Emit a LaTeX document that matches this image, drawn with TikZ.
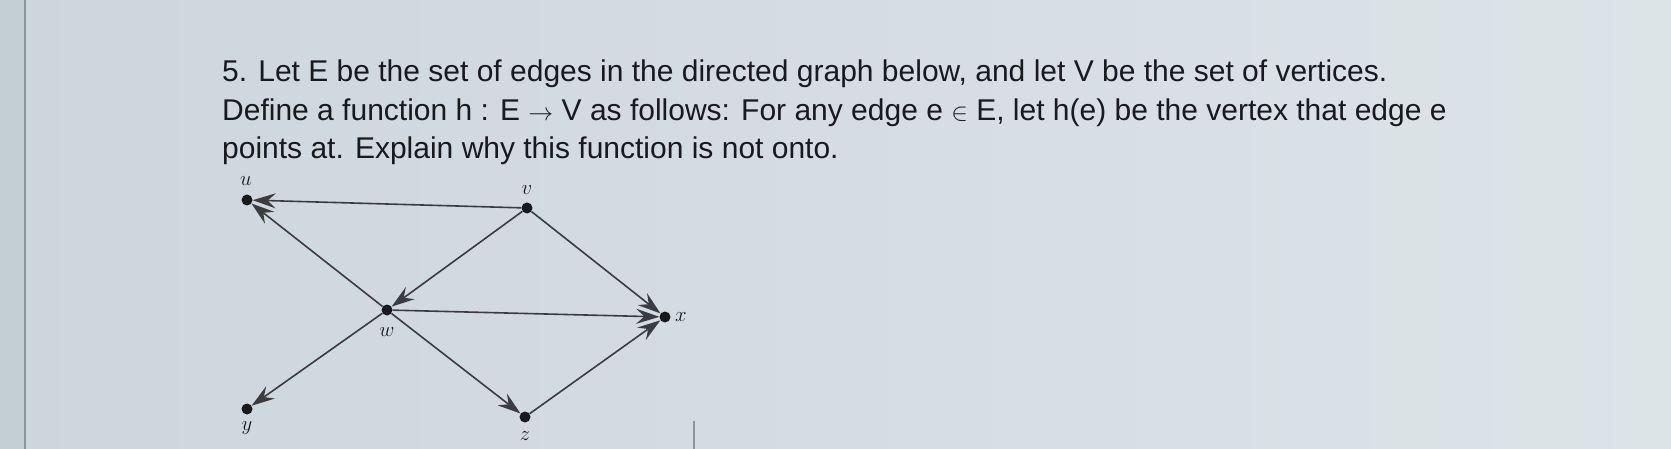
\documentclass[tikz,border=0pt]{standalone}
\usepackage{fontspec}
\setmainfont{Liberation Sans}
\usetikzlibrary{arrows.meta}

\definecolor{screen}{RGB}{205,214,221}
\definecolor{screenlight}{RGB}{221,228,232}
\definecolor{bezel}{RGB}{196,206,213}
\definecolor{bezelline}{RGB}{138,150,162}
\definecolor{ink}{RGB}{24,26,30}

\tikzset{
    vertex/.style={circle, fill=ink, inner sep=0pt, minimum size=11pt},
    vlabel/.style={inner sep=0pt, text=ink, font=\fontsize{21}{21}\selectfont},
    edge/.style={draw=ink!85, line width=1.6pt, -{Stealth[length=23pt, width=15pt, inset=8pt]}},
    question/.style={anchor=base west, inner sep=0pt, text=ink, font=\fontsize{30}{30}\selectfont}
}

\begin{document}
\begin{tikzpicture}[x=1pt, y=-1pt]
    \useasboundingbox (0,0) rectangle (1671,449);
    \shade[left color=screen, right color=screenlight] (0,0) rectangle (1671,449);
    \fill[bezel] (0,0) rectangle (25,449);
    \draw[draw=bezelline, line width=1.5pt] (25,0) -- (25,449);

    \begin{scope}
        \node[question] (line1) at (222,82) {5. Let E be the set of edges in the directed graph below, and let V be the set of vertices.};
        \node[question] (line2) at (222,121) {Define a function h : E $\to$ V as follows: For any edge e $\in$ E, let h(e) be the vertex that edge e};
        \node[question] (line3) at (222,159) {points at. Explain why this function is not onto.};
    \end{scope}

    % vertices
    \node[vertex] (u) at (247,200) {};
    \node[vertex] (v) at (527,208) {};
    \node[vertex] (w) at (387,310) {};
    \node[vertex] (x) at (665,317) {};
    \node[vertex] (y) at (247,409) {};
    \node[vertex] (z) at (525,417) {};

    \node[vlabel] (ulbl) at (246,181) {$u$};
    \node[vlabel] (vlbl) at (527,190) {$v$};
    \node[vlabel] (wlbl) at (387,332) {$w$};
    \node[vlabel] (xlbl) at (681,317) {$x$};
    \node[vlabel] (ylbl) at (247,428) {$y$};
    \node[vlabel] (zlbl) at (525,436) {$z$};

    % edges
    \draw[edge] (v) -- (u);
    \draw[edge] (w) -- (u);
    \draw[edge] (v) -- (w);
    \draw[edge] (v) -- (x);
    \draw[edge] (w) -- (x);
    \draw[edge] (w) -- (y);
    \draw[edge] (w) -- (z);
    \draw[edge] (z) -- (x);

    \draw[draw=bezelline, line width=1.5pt] (694,421) -- (694,449);
\end{tikzpicture}
\end{document}
